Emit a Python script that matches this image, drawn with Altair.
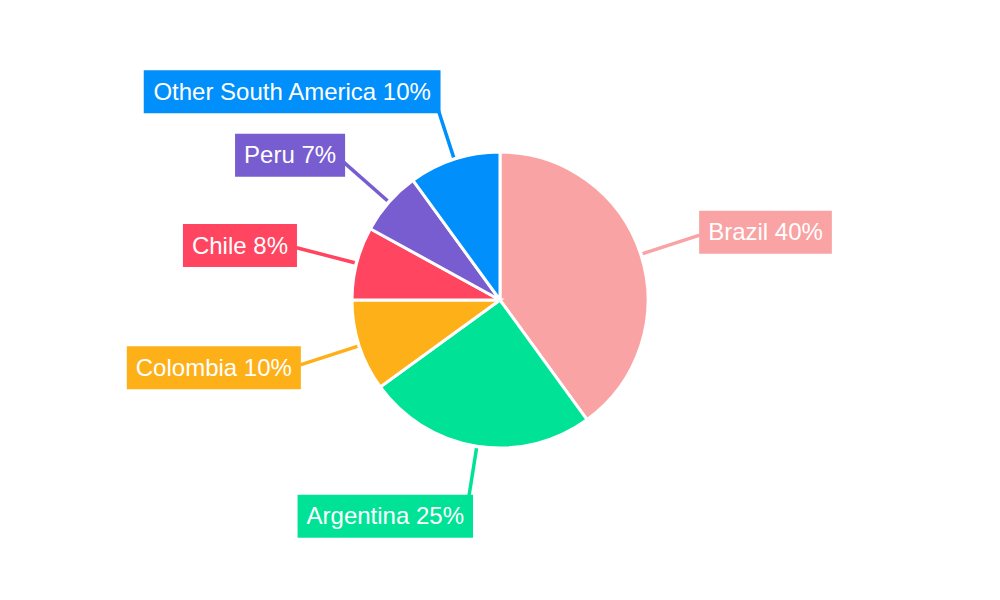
import math

import altair as alt
import pandas as pd

# slices, clockwise from 12 o'clock
countries = ["Brazil", "Argentina", "Colombia", "Chile", "Peru", "Other South America"]
shares = [40, 25, 10, 8, 7, 10]
colors = ["#F9A3A4", "#00E396", "#FEB019", "#FF4560", "#775DD0", "#008FFB"]

W, H = 984, 584
R = 148
FONT = 24

# Arial / Liberation Sans advance widths (per 1000 em), to size the label boxes
ADV = {" ": 278, "%": 889, "A": 667, "B": 667, "C": 722, "O": 778, "P": 667, "S": 667,
       "a": 556, "b": 556, "c": 500, "e": 556, "g": 556, "h": 556, "i": 222, "l": 222,
       "m": 833, "n": 556, "o": 556, "r": 333, "t": 278, "u": 556, "z": 500}


def text_width(s):
    return sum(ADV.get(ch, 556) for ch in s) * FONT / 1000


rows = []
cum = 0
for i, (name, v) in enumerate(zip(countries, shares)):
    mid = (cum + v / 2) / 100 * 2 * math.pi
    cum += v
    label = f"{name} {v}%"
    sx, cx = math.sin(mid), math.cos(mid)
    w = text_width(label) + 18
    side = 1 if sx > 0 else -1
    edge = 210 * sx - side * 6 * cx * cx
    left = edge if side > 0 else edge - w
    yc = 219 * cx
    rows.append(dict(
        country=name, share=v, order=i, label=label,
        x1=150 * sx, y1=150 * cx, x2=210 * sx, y2=210 * cx,
        bx=left, bx2=left + w, by=yc - 21.5, by2=yc + 21.5,
        tx=left + w / 2, ty=yc,
    ))
df = pd.DataFrame(rows)

xs = alt.Scale(domain=[-W / 2, W / 2], nice=False, zero=False)
ys = alt.Scale(domain=[-H / 2, H / 2], nice=False, zero=False)
col = alt.Color("country:N", scale=alt.Scale(domain=countries, range=colors), legend=None)

base = alt.Chart(df)

pie = base.mark_arc(radius=R, stroke="white", strokeWidth=3).encode(
    theta=alt.Theta("share:Q", stack=True),
    order=alt.Order("order:Q"),
    color=col,
)

lines = base.mark_rule(strokeWidth=3.5).encode(
    x=alt.X("x1:Q", scale=xs, axis=None),
    y=alt.Y("y1:Q", scale=ys, axis=None),
    x2="x2:Q", y2="y2:Q",
    color=col,
)

boxes = base.mark_rect().encode(
    x=alt.X("bx:Q", scale=xs, axis=None),
    x2="bx2:Q",
    y=alt.Y("by:Q", scale=ys, axis=None),
    y2="by2:Q",
    color=col,
)

texts = base.mark_text(font="Liberation Sans", fontSize=FONT, color="white",
                       align="center", baseline="middle", dy=1).encode(
    x=alt.X("tx:Q", scale=xs, axis=None),
    y=alt.Y("ty:Q", scale=ys, axis=None),
    text="label:N",
)

chart = alt.layer(pie, lines, boxes, texts).properties(
    width=W, height=H, padding=0, autosize=alt.AutoSizeParams(type="none")
).configure_view(stroke=None)

chart.save("out.html", embed_options={"renderer": "svg", "actions": False})
